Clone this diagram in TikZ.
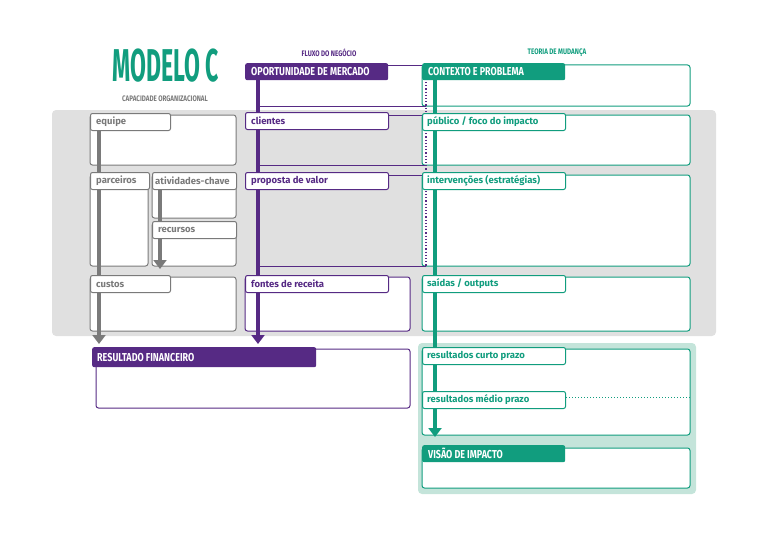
\documentclass[tikz,border=0pt]{standalone}
\usepackage{fontspec}
\setmainfont{Fira Sans}
\newfontfamily\cond[FakeStretch=0.78]{Fira Sans}
\newfontfamily\titlef[FakeStretch=0.5]{Fira Sans}
\usetikzlibrary{arrows.meta}
\definecolor{pur}{HTML}{562A84}
\definecolor{grn}{HTML}{119D7E}
\definecolor{gry}{HTML}{7A7A7A}
\definecolor{gband}{HTML}{E0E0E0}
\definecolor{lgrn}{HTML}{C4E4DA}
\tikzset{
 bx/.style={draw=#1, line width=1pt, rounded corners=2.5pt, fill=white},
 lb/.style={draw=#1, line width=1pt, rounded corners=2pt, fill=white, anchor=north west, inner sep=0pt, minimum height=17pt},
 hd/.style={fill=#1, rounded corners=2pt, anchor=north west, inner sep=0pt, minimum height=17pt},
 lt/.style={anchor=west, text=#1, font=\fontsize{9.5}{10}\selectfont\bfseries, inner sep=0pt},
 ht/.style={anchor=west, text=white, font=\cond\fontsize{11.5}{12}\selectfont\bfseries, inner sep=0pt},
 bar/.style={draw=#1, line width=4pt, -{Triangle[width=13pt,length=9pt]}},
 sm/.style={font=\cond\fontsize{8}{8}\selectfont\bfseries, text=#1},
}
\begin{document}
\begin{tikzpicture}[x=1pt,y=-1pt]
\useasboundingbox (0,0) rectangle (768,543);
% bands
\fill[gband, rounded corners=4pt] (52,110) rectangle (716,336);
\fill[lgrn, rounded corners=4pt] (418,343) rectangle (696,494);
% titles
\node[text=grn, font=\titlef\fontsize{46}{46}\selectfont\bfseries, inner sep=0] (title) at (166,66) {MODELO C};
\node[sm=gry] (capo) at (165,99) {CAPACIDADE ORGANIZACIONAL};
\node[sm=pur] (fluxo) at (329,53) {FLUXO DO NEGÓCIO};
\node[sm=grn] (teoria) at (557,53) {TEORIA DE MUDANÇA};
% ---------- green column boxes
\draw[bx=grn] (422,65) rectangle (690,106);
\draw[bx=grn] (422,115) rectangle (690,165);
\draw[bx=grn] (422,175) rectangle (690,266);
\draw[bx=grn] (422,277) rectangle (690,331);
\draw[bx=grn] (422,349) rectangle (690,435);
\draw[grn, line width=1pt, dotted] (566,397) -- (690,397);
\draw[bx=grn] (422,448) rectangle (690,488);
% ---------- purple column open boxes
\draw[pur, line width=1pt] (380,66) -- (426,66);
\draw[pur, line width=1pt] (258,106) -- (426,106);
\draw[pur, line width=1pt] (380,115) -- (426,115);
\draw[pur, line width=1pt] (258,165) -- (426,165);
\draw[pur, line width=1pt] (380,175) -- (426,175);
\draw[pur, line width=1pt] (258,266) -- (426,266);
\draw[pur, line width=1.2pt, dotted] (426,82) -- (426,266);
\draw[bx=pur] (245,277) rectangle (410,331);
\draw[bx=pur] (96,349) rectangle (410,408);
% ---------- gray column boxes
\draw[bx=gry] (90,115) rectangle (236,165);
\draw[bx=gry] (90,175) rectangle (148,266);
\draw[bx=gry] (152,175) rectangle (236,218);
\draw[bx=gry] (152,223) rectangle (236,266);
\draw[bx=gry] (90,277) rectangle (236,331);
% ---------- headers
\node[hd=pur, minimum width=143pt] (opo) at (245,63) {};
\node[ht] at ([xshift=6pt]opo.west) {OPORTUNIDADE DE MERCADO};
\node[hd=grn, minimum width=143pt] (ctx) at (422,63) {};
\node[ht] at ([xshift=6pt]ctx.west) {CONTEXTO E PROBLEMA};
\node[hd=pur, minimum width=224pt, minimum height=20pt] (res) at (92,347) {};
\node[ht] at ([xshift=5pt]res.west) {RESULTADO FINANCEIRO};
\node[hd=grn, minimum width=143pt] (vis) at (422,445) {};
\node[ht] at ([xshift=6pt]vis.west) {VISÃO DE IMPACTO};
% ---------- bars
\coordinate (gStart) at (99,130);
\coordinate (gEnd) at (99,344);
\coordinate (aStart) at (160,189);
\coordinate (aEnd) at (160,269);
\coordinate (pEnd) at (258,344);
\coordinate (tEnd) at (435,437);
\draw[bar=gry] (gStart) -- (gEnd);
\draw[bar=gry] (aStart) -- (aEnd);
\draw[bar=pur] (opo.south -| pEnd) -- (pEnd);
\draw[bar=grn] (ctx.south -| tEnd) -- (tEnd);
% ---------- labels (on top of bars)
\node[lb=gry, minimum width=80pt] (equipe) at (90,113) {};
\node[lt=gry] at ([xshift=6pt]equipe.west) {equipe};
\node[lb=gry, minimum width=59pt] (parc) at (90,172) {};
\node[lt=gry] at ([xshift=6pt]parc.west) {parceiros};
\node[lb=gry, minimum width=84pt] (ativ) at (152,172) {};
\node[lt=gry] at ([xshift=3pt]ativ.west) {atividades-chave};
\node[lb=gry, minimum width=84pt] (recur) at (152,221) {};
\node[lt=gry] at ([xshift=6pt]recur.west) {recursos};
\node[lb=gry, minimum width=80pt] (custos) at (90,275) {};
\node[lt=gry] at ([xshift=6pt]custos.west) {custos};
\node[lb=pur, minimum width=143pt] (cli) at (245,112) {};
\node[lt=pur] at ([xshift=6pt]cli.west) {clientes};
\node[lb=pur, minimum width=143pt] (prop) at (245,172) {};
\node[lt=pur] at ([xshift=6pt]prop.west) {proposta de valor};
\node[lb=pur, minimum width=143pt] (fontes) at (245,275) {};
\node[lt=pur] at ([xshift=6pt]fontes.west) {fontes de receita};
\node[lb=grn, minimum width=143pt] (pub) at (422,113) {};
\node[lt=grn] at ([xshift=5pt]pub.west) {público / foco do impacto};
\node[lb=grn, minimum width=143pt] (interv) at (422,172) {};
\node[lt=grn] at ([xshift=5pt]interv.west) {intervenções (estratégias)};
\node[lb=grn, minimum width=143pt] (saidas) at (422,275) {};
\node[lt=grn] at ([xshift=5pt]saidas.west) {saídas / outputs};
\node[lb=grn, minimum width=143pt] (curto) at (422,347) {};
\node[lt=grn] at ([xshift=5pt]curto.west) {resultados curto prazo};
\node[lb=grn, minimum width=143pt] (medio) at (422,391) {};
\node[lt=grn] at ([xshift=5pt]medio.west) {resultados médio prazo};
\end{tikzpicture}
\end{document}
